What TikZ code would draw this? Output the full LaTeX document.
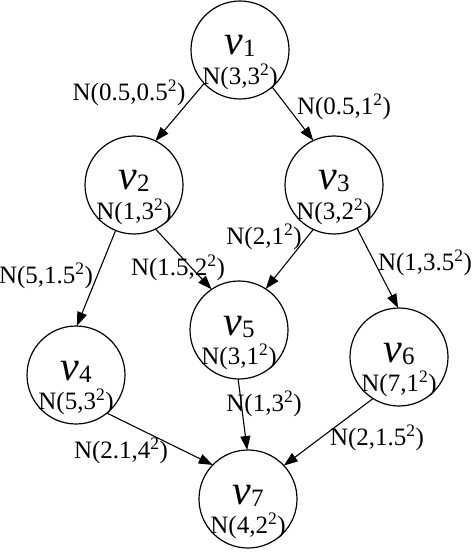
\documentclass[tikz,border=0pt]{standalone}
\usepackage{fontspec}
\setmainfont{Liberation Serif}
\usetikzlibrary{arrows.meta}
\tikzset{
  vtx/.style={circle, draw, line width=1.2pt, minimum size=98pt, inner sep=0pt,
              outer sep=0pt, font=\fontsize{25}{29}\selectfont},
  lbl/.style={font=\fontsize{25}{29}\selectfont, inner sep=0pt},
  arr/.style={-{Triangle[length=14pt,width=10pt]}, line width=1.1pt},
}
% vertex text: name on the first line, distribution below
\newcommand{\vtxt}[2]{\raisebox{-5pt}[0pt][0pt]{\begin{tabular}[t]{@{}c@{}}%
  {\fontsize{42}{42}\selectfont\itshape v}\raisebox{-2pt}{#1}\\#2\end{tabular}}}
\newcommand{\sq}[1]{\textsuperscript{#1}}

\begin{document}
\begin{tikzpicture}[x=1pt, y=-1pt]
  \useasboundingbox (0,0) rectangle (474,553);

  % vertices
  \node[vtx] (v1) at (240,50)  {\vtxt{1}{N(3,3\sq{2})}};
  \node[vtx] (v2) at (134,185) {\vtxt{2}{N(1,3\sq{2})}};
  \node[vtx] (v3) at (334,185) {\vtxt{3}{N(3,2\sq{2})}};
  \node[vtx] (v4) at (76,375)  {\vtxt{4}{N(5,3\sq{2})}};
  \node[vtx] (v5) at (239,330) {\vtxt{5}{N(3,1\sq{2})}};
  \node[vtx] (v6) at (399,357) {\vtxt{6}{N(7,1\sq{2})}};
  \node[vtx] (v7) at (248,499) {\vtxt{7}{N(4,2\sq{2})}};

  % edges
  \draw[arr] (v1.223) -- (v2.64);
  \draw[arr] (v1.311) -- (v3.115);
  \draw[arr] (v2.248) -- (v4.89);
  \draw[arr] (v2.296) -- (v5.124);
  \draw[arr] (v3.245) -- (v5.57);
  \draw[arr] (v3.298) -- (v6.91);
  \draw[arr] (v5.269) -- (v7.91);
  \draw[arr] (v4.309) -- (v7.136);
  \draw[arr] (v6.238) -- (v7.43);

  % edge labels
  \node[lbl] (l12) at (129,93)  {N(0.5,0.5\sq{2})};
  \node[lbl] (l13) at (344,107) {N(0.5,1\sq{2})};
  \node[lbl] (l24) at (46,276)  {N(5,1.5\sq{2})};
  \node[lbl] (l25) at (178,268) {N(1.5,2\sq{2})};
  \node[lbl] (l35) at (264,237) {N(2,1\sq{2})};
  \node[lbl] (l36) at (425,263) {N(1,3.5\sq{2})};
  \node[lbl] (l57) at (264,404) {N(1,3\sq{2})};
  \node[lbl] (l47) at (121,451) {N(2.1,4\sq{2})};
  \node[lbl] (l67) at (377,438) {N(2,1.5\sq{2})};
\end{tikzpicture}
\end{document}
